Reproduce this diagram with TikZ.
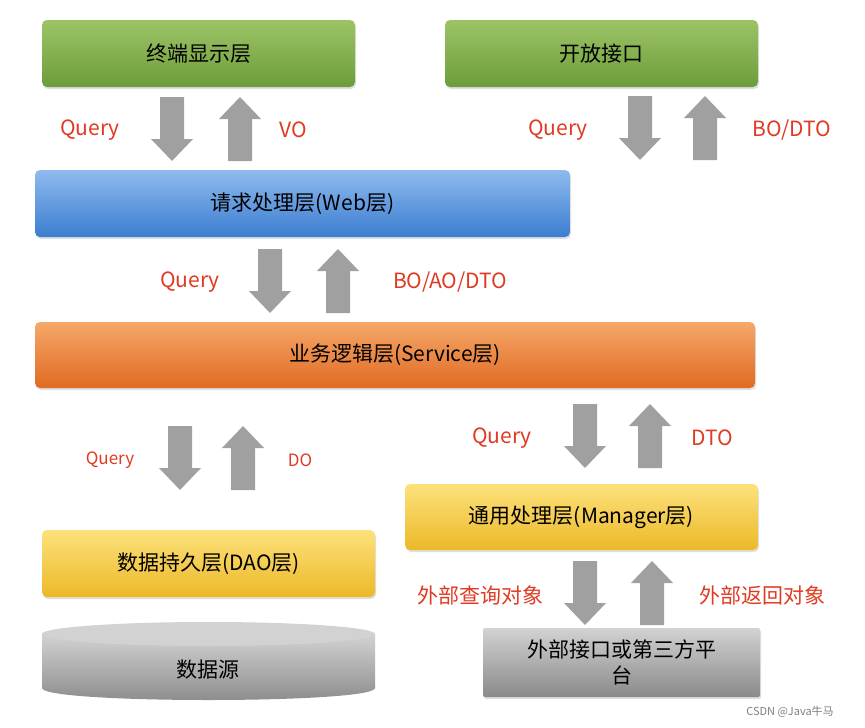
\documentclass[tikz,border=0pt]{standalone}
\usepackage{fontspec}
\setmainfont{Noto Sans CJK SC}
\usetikzlibrary{shadows}
\definecolor{lab}{HTML}{E03A22}
\definecolor{g1}{HTML}{9CC466}\definecolor{g2}{HTML}{6E9C3A}
\definecolor{b1}{HTML}{8EBBEE}\definecolor{b2}{HTML}{3C7DD0}
\definecolor{o1}{HTML}{F6A86A}\definecolor{o2}{HTML}{E06A22}
\definecolor{y1}{HTML}{FCE27C}\definecolor{y2}{HTML}{EDB828}
\definecolor{s1}{HTML}{D2D2D2}\definecolor{s2}{HTML}{8A8A8A}
\definecolor{arr}{HTML}{A0A0A0}
\newcommand\dnar[2]{\fill[arr] (#1-12,#2-32) -- (#1+12,#2-32) -- (#1+12,#2+10) -- (#1+21,#2+10) -- (#1,#2+32) -- (#1-21,#2+10) -- (#1-12,#2+10) -- cycle;}
\newcommand\upar[2]{\fill[arr] (#1-12,#2+32) -- (#1+12,#2+32) -- (#1+12,#2-10) -- (#1+21,#2-10) -- (#1,#2-32) -- (#1-21,#2-10) -- (#1-12,#2-10) -- cycle;}
\begin{document}
\begin{tikzpicture}[x=1pt,y=-1pt,
 box/.style={rounded corners=5pt,draw=none,font=\fontsize{21}{25}\selectfont,drop shadow={opacity=0.25,shadow xshift=1pt,shadow yshift=-2pt}},
 lab/.style={text=lab,font=\fontsize{21}{24}\selectfont}]
\useasboundingbox (0,0) rectangle (865,728);
\fill[white] (0,0) rectangle (865,728);
\path[box,top color=g1,bottom color=g2] (42,20) rectangle (355,87) node[midway] (term) {终端显示层};
\path[box,top color=g1,bottom color=g2] (445,20) rectangle (758,87) node[midway] (open) {开放接口};
\path[box,top color=b1,bottom color=b2] (35,170) rectangle (570,237) node[midway] (web) {请求处理层(Web层)};
\path[box,top color=o1,bottom color=o2] (35,322) rectangle (755,388) node[midway] (svc) {业务逻辑层(Service层)};
\path[box,top color=y1,bottom color=y2] (405,484) rectangle (758,550) node[midway] (mgr) {通用处理层(Manager层)};
\path[box,top color=y1,bottom color=y2] (42,530) rectangle (375,597) node[midway] (dao) {数据持久层(DAO层)};
\path[box,rounded corners=2pt,top color=s1,bottom color=s2] (483,628) rectangle (760,697) node[midway,align=center,font=\fontsize{21}{26}\selectfont] (ext) {外部接口或第三方平\\台};
% cylinder
\shade[top color=s1,bottom color=s2] (42,634) -- (42,688) .. controls (42,704) and (375,704) .. (375,688) -- (375,634) -- cycle;
\fill[s1] (208.5,634) ellipse[x radius=166.5,y radius=12];
\node[font=\fontsize{21}{25}\selectfont] (ds) at (208,670) {数据源};
% arrows
\dnar{172}{129} \upar{240}{129}
\node[lab] at (90,130) {Query}; \node[lab] at (293,130) {VO};
\dnar{640}{128} \upar{705}{128}
\node[lab] at (558,130) {Query}; \node[lab] at (792,130) {BO/DTO};
\dnar{270}{281} \upar{338}{281}
\node[lab] at (190,282) {Query}; \node[lab] at (450,282) {BO/AO/DTO};
\dnar{180}{458} \upar{243}{458}
\node[lab,font=\fontsize{17}{20}\selectfont] at (110,460) {Query}; \node[lab,font=\fontsize{17}{20}\selectfont] at (300,460) {DO};
\dnar{585}{436} \upar{650}{436}
\node[lab] at (502,438) {Query}; \node[lab] at (712,438) {DTO};
\dnar{585}{593} \upar{652}{593}
\node[lab] at (480,595) {外部查询对象}; \node[lab] at (762,595) {外部返回对象};
\node[text=gray,font=\fontsize{11}{13}\selectfont] at (790,712) {CSDN @Java牛马};
\end{tikzpicture}
\end{document}
